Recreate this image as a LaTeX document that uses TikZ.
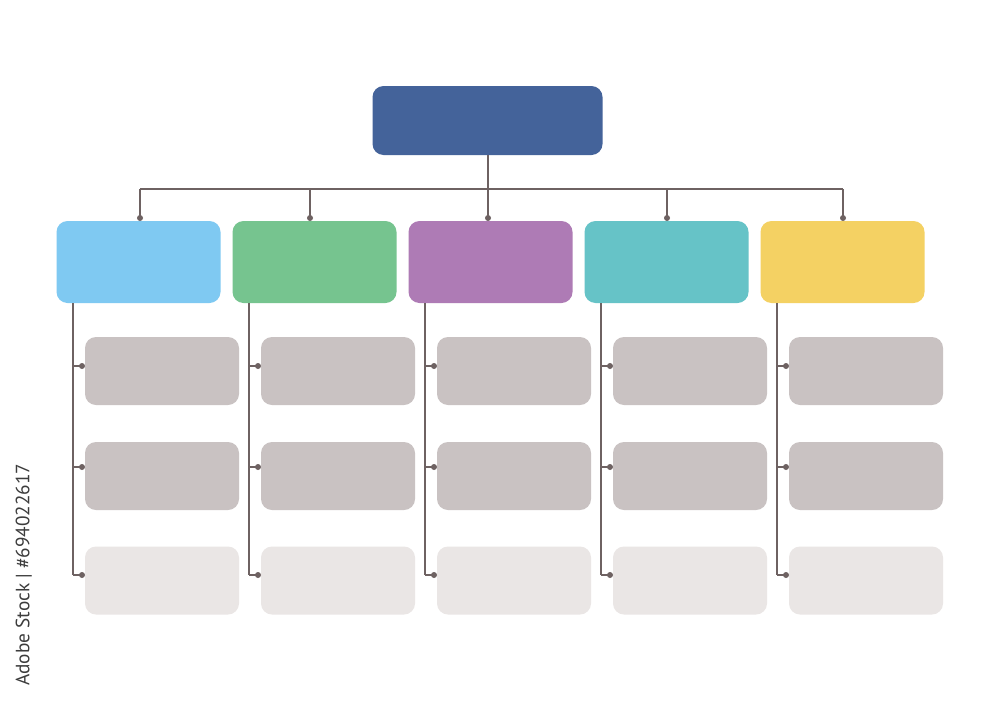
\documentclass[tikz,border=0pt]{standalone}
\usepackage{fontspec}
\usepackage{graphicx}
\newfontfamily\wmfont{PT Sans}
\usetikzlibrary{calc}
\definecolor{ctop}{HTML}{44639A}
\definecolor{cblue}{HTML}{7FC9F2}
\definecolor{cgreen}{HTML}{76C48F}
\definecolor{cpurple}{HTML}{AE7BB5}
\definecolor{cteal}{HTML}{66C3C7}
\definecolor{cyellow}{HTML}{F4D163}
\definecolor{cgrey}{HTML}{C9C2C2}
\definecolor{clight}{HTML}{EAE6E5}
\definecolor{cline}{HTML}{6E6262}
\definecolor{cwm}{HTML}{3C3C3C}
\tikzset{
  topbox/.style={rectangle, rounded corners=11pt, inner sep=0pt, minimum width=230pt, minimum height=69pt, fill=ctop},
  lvbox/.style={rectangle, rounded corners=11pt, inner sep=0pt, minimum width=164pt, minimum height=82pt},
  subbox/.style={rectangle, rounded corners=11pt, inner sep=0pt, minimum width=154pt, minimum height=68pt},
  conn/.style={draw=cline, line width=1.5pt},
  dotc/.style={fill=cline}
}
\begin{document}
\begin{tikzpicture}[x=1pt,y=-1pt]
\useasboundingbox (0,0) rectangle (1000,701);
\fill[white] (0,0) rectangle (1000,701);

\node[topbox] (top) at (487.5,120.5) {};

% horizontal bus
\foreach \i/\dx in {0/140,1/310,2/488,3/667,4/843}{
  \coordinate (bus\i) at (\dx,189);
  \coordinate (dt\i) at (\dx,218);
}
\draw[conn] (bus0) -- (bus4);
\draw[conn] (top.south -| dt2) -- (dt2);
\foreach \i in {0,1,3,4}{
  \draw[conn] (bus\i) -- (dt\i);
}

\foreach \i/\c in {0/cblue,1/cgreen,2/cpurple,3/cteal,4/cyellow}{
  \pgfmathsetmacro{\cx}{138.5+176*\i}
  \pgfmathsetmacro{\sx}{73+176*\i}
  \pgfmathsetmacro{\gx}{162+176*\i}
  \pgfmathsetmacro{\px}{82+176*\i}
  \node[lvbox, fill=\c] (l\i) at (\cx,262) {};
  \node[subbox, fill=cgrey] (s\i a) at (\gx,371) {};
  \node[subbox, fill=cgrey] (s\i b) at (\gx,476) {};
  \node[subbox, fill=clight] (s\i c) at (\gx,580.5) {};
  \coordinate (st\i) at (\sx,303);
  \coordinate (d\i a) at (\px,366);
  \coordinate (d\i b) at (\px,467);
  \coordinate (d\i c) at (\px,575);
  \draw[conn] (st\i) -- (st\i |- d\i c);
  \foreach \r in {a,b,c}{
    \draw[conn] (st\i |- d\i\r) -- (d\i\r);
    \fill[dotc] (d\i\r) circle (3pt);
  }
}
\foreach \i in {0,...,4}{
  \fill[dotc] (dt\i) circle (3pt);
}

\node[rotate=90, anchor=south west, inner sep=0pt, text=cwm] (wm) at (32,686)
  {\resizebox{222pt}{!}{\wmfont Adobe Stock | \#694022617}};
\end{tikzpicture}
\end{document}
